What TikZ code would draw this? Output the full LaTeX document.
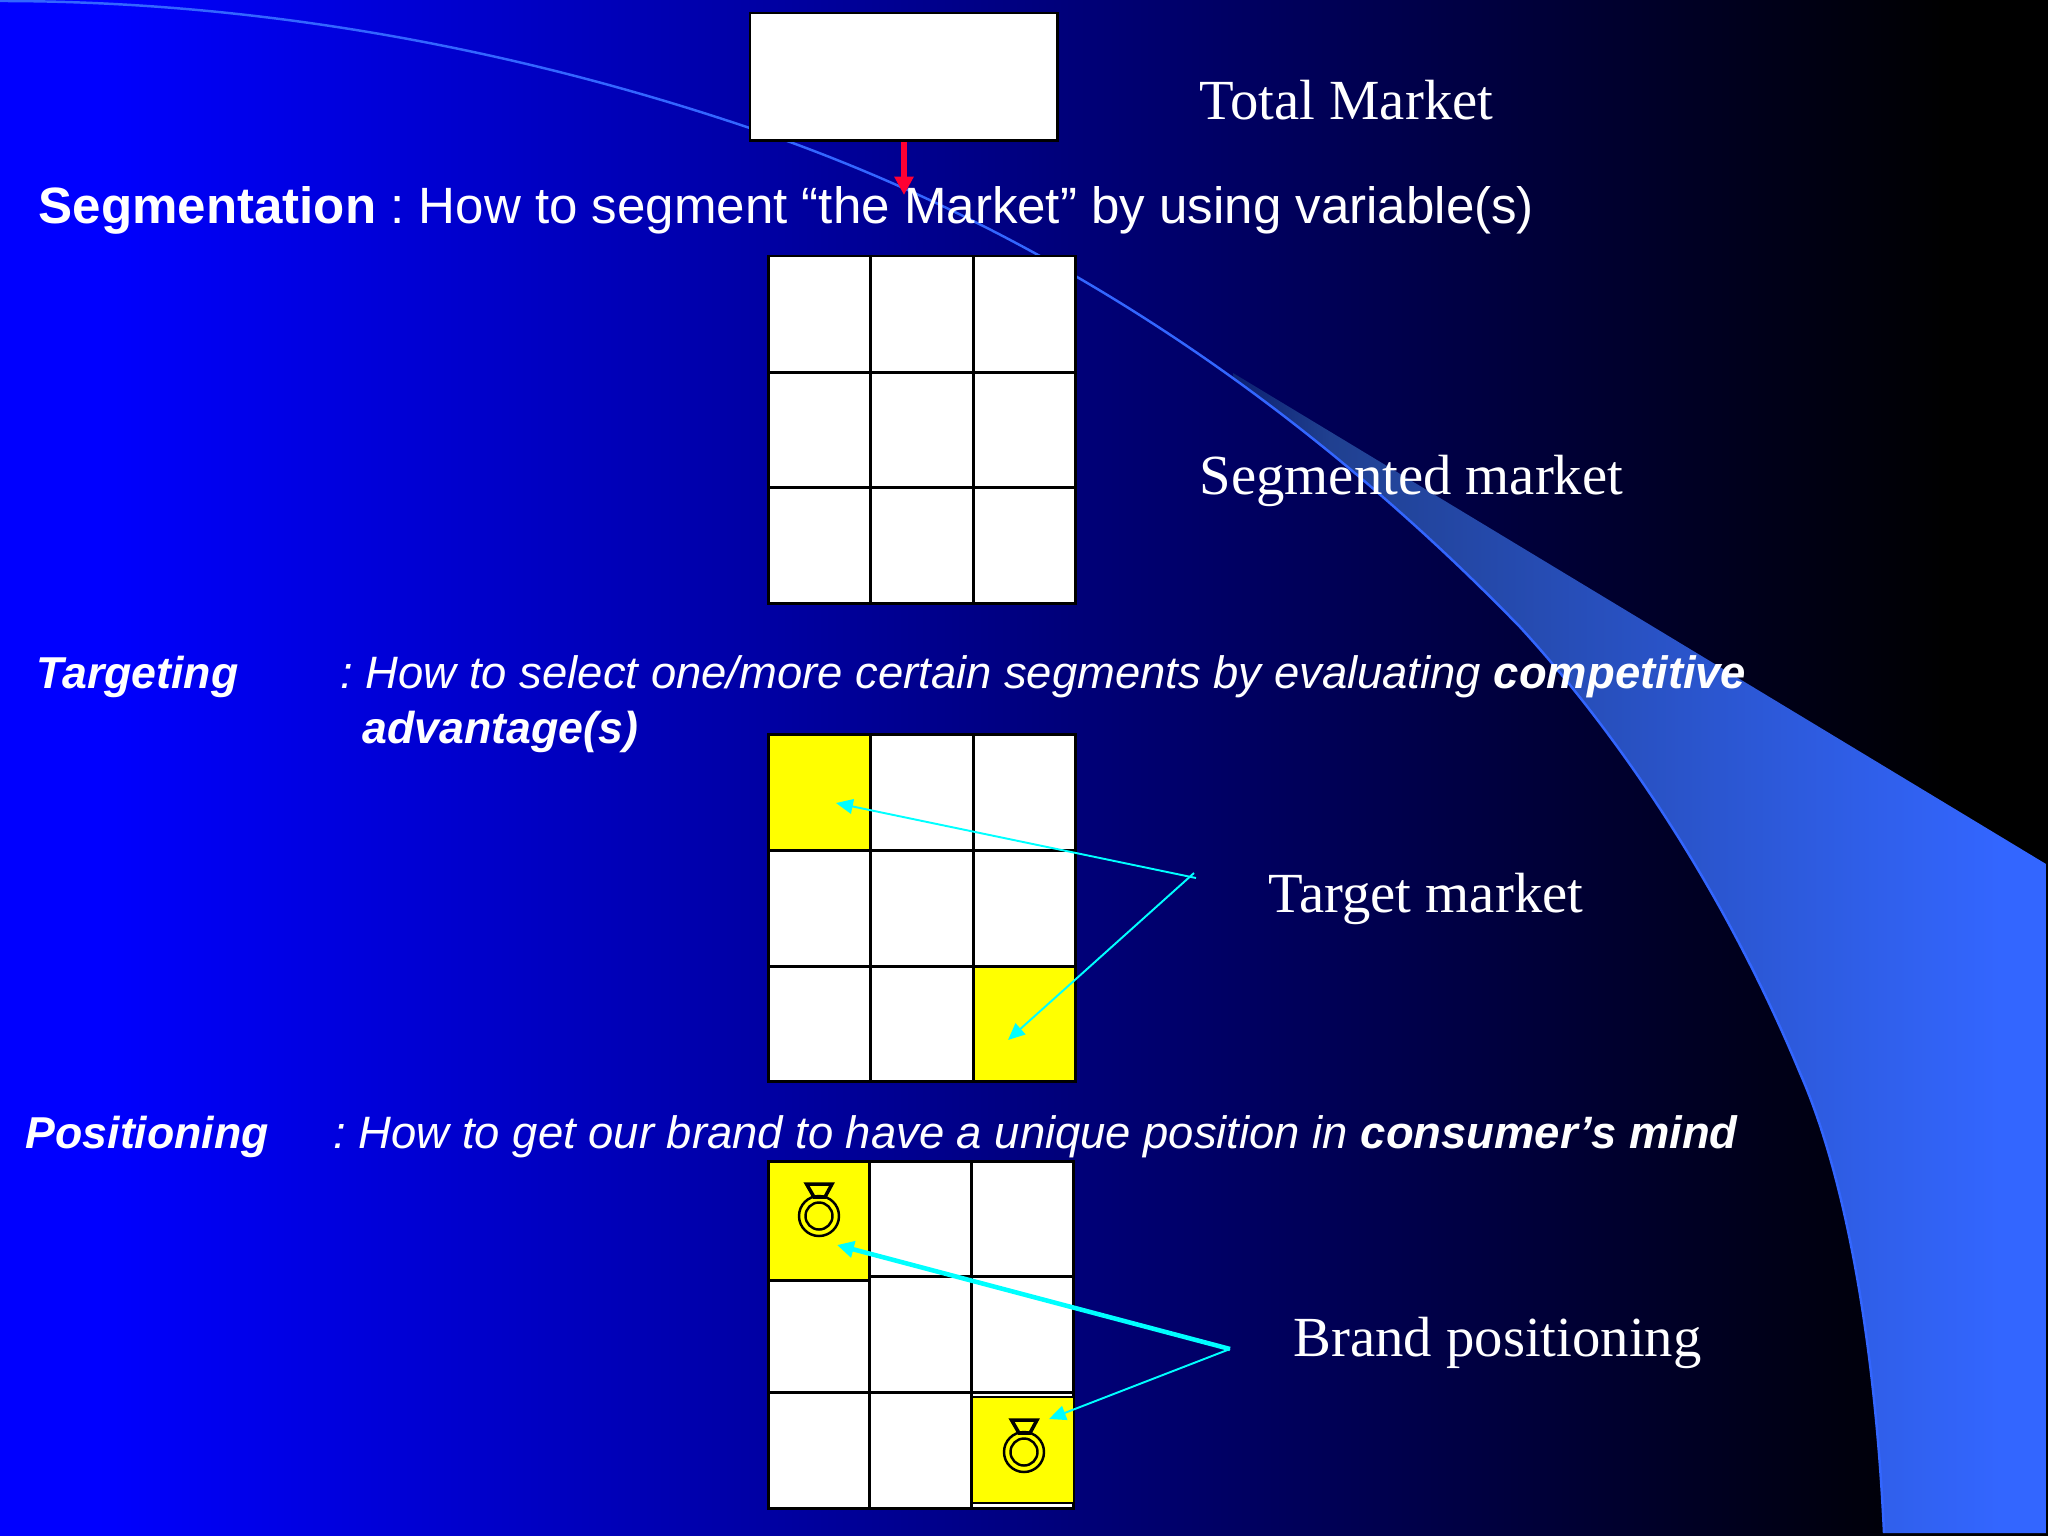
\documentclass[tikz,border=0pt]{standalone}
\usepackage{fontspec}
\setmainfont{Liberation Serif}
\setsansfont{Liberation Sans}
\frenchspacing
\usetikzlibrary{arrows.meta}
\definecolor{bgA}{HTML}{0000FF}
\pgfdeclarehorizontalshading{bgshade}{100bp}{color(0bp)=(bgA); color(27.4bp)=(bgA); color(72.6bp)=(black); color(100bp)=(black)}
\definecolor{bladeT}{HTML}{0C2070}
\definecolor{bladeA}{HTML}{204090}
\definecolor{bladeB}{HTML}{3366FF}
\pgfdeclarehorizontalshading{bladeshade}{100bp}{color(0bp)=(bladeT); color(42.6bp)=(bladeT); color(46.5bp)=(bladeA); color(73.2bp)=(bladeB); color(100bp)=(bladeB)}
\definecolor{edgeblue}{HTML}{3366FF}
\definecolor{cyanline}{HTML}{00FFFF}
\definecolor{redarrow}{HTML}{FF0033}
\definecolor{cellyellow}{HTML}{FFFF00}
\tikzset{
  cellbox/.style={draw=black,line width=0.85pt,fill=white,rectangle,inner sep=0pt,outer sep=0pt},
  serifl/.style={anchor=base west,text=white,inner sep=0pt,font=\fontsize{16.12}{19}\selectfont},
  headl/.style={anchor=base west,text=white,inner sep=0pt,font=\sffamily\fontsize{14.52}{17}\selectfont},
  iteml/.style={anchor=base west,text=white,inner sep=0pt,font=\sffamily\itshape\fontsize{12.91}{15}\selectfont},
  itemh/.style={anchor=base west,text=white,inner sep=0pt,font=\sffamily\itshape\fontsize{12.7}{15}\selectfont},
  cyanthin/.style={draw=cyanline,line width=0.55pt,-{Triangle[length=4.8pt,width=4.2pt]}},
  cyanthick/.style={draw=cyanline,line width=1.3pt,-{Triangle[length=4.8pt,width=4.6pt]}},
  ringline/.style={draw=black,line width=0.7pt},
}
\newcommand{\gridcell}[6]{%
  \pgfmathsetmacro{\gcx}{(#2+#3)/2}\pgfmathsetmacro{\gcy}{(#4+#5)/2}%
  \pgfmathsetmacro{\gcw}{(#3-#2)*0.01}\pgfmathsetmacro{\gch}{(#5-#4)*0.01}%
  \node[cellbox,fill=#6,minimum width=\gcw cm,minimum height=\gch cm] (#1) at (\gcx,\gcy) {};}
\newcommand{\ringmark}[2]{%
  \draw[ringline] (#1,#2) circle (20);
  \draw[ringline] (#1,#2) circle (13.5);
  \draw[ringline,line width=1pt] (#1-12.5,#2-32) -- (#1+13,#2-32) -- (#1+6,#2-19) -- (#1-5,#2-19) -- cycle;}
\newcommand{\bladecurve}{(790,142) .. controls (1030,230) and (1280,380) .. (1520,627) .. controls (1610,725) and (1720,880) .. (1800,1073) .. controls (1845,1175) and (1875,1340) .. (1884,1533)}
\begin{document}
\begin{tikzpicture}[x=0.01cm,y=-0.01cm]
\useasboundingbox (0,0) rectangle (2048,1536);
\shade[shading=bgshade] (0,0) rectangle (2048,1536);
% blade
\begin{scope}
\clip (1233,373) -- (2048,865) -- (2048,1536) -- (1233,1536) -- cycle;
\shade[shading=bladeshade] \bladecurve -- (2046,1533) -- (2046,864) -- (1233,373) -- cycle;
\end{scope}
\draw[edgeblue,line width=0.7pt] (0,1) .. controls (290,1) and (560,60) .. \bladecurve;
% total market
\gridcell{total}{750}{1057}{13}{140}{white}
\coordinate (redtip) at (904,195);
\draw[redarrow,line width=1.45pt,-{Triangle[length=5.2pt,width=5.2pt]}] (904,142) -- (redtip);
% segmented
\gridcell{sa}{768}{870}{256}{372}{white}
\gridcell{sb}{870}{973}{256}{372}{white}
\gridcell{sc}{973}{1075}{256}{372}{white}
\gridcell{sd}{768}{870}{372}{487}{white}
\gridcell{se}{870}{973}{372}{487}{white}
\gridcell{sf}{973}{1075}{372}{487}{white}
\gridcell{sg}{768}{870}{487}{603}{white}
\gridcell{sh}{870}{973}{487}{603}{white}
\gridcell{si}{973}{1075}{487}{603}{white}
% target
\gridcell{ta}{768}{870}{734}{850}{cellyellow}
\gridcell{tb}{870}{973}{734}{850}{white}
\gridcell{tc}{973}{1075}{734}{850}{white}
\gridcell{td}{768}{870}{850}{966}{white}
\gridcell{te}{870}{973}{850}{966}{white}
\gridcell{tf}{973}{1075}{850}{966}{white}
\gridcell{tg}{768}{870}{966}{1081}{white}
\gridcell{th}{870}{973}{966}{1081}{white}
\gridcell{ti}{973}{1075}{966}{1081}{cellyellow}
\coordinate (tsrca) at (1196,878);
\coordinate (tsrcb) at (1194,873);
\coordinate (ttipa) at (836,803);
\coordinate (ttipb) at (1008,1040);
\draw[cyanthin] (tsrca) -- (ttipa);
\draw[cyanthin] (tsrcb) -- (ttipb);
% positioning
\gridcell{pb}{869}{971}{1161}{1276}{white}
\gridcell{pc}{971}{1073}{1161}{1276}{white}
\gridcell{pd}{768}{869}{1280}{1392}{white}
\gridcell{pe}{869}{971}{1276}{1392}{white}
\gridcell{pf}{971}{1073}{1276}{1392}{white}
\gridcell{pg}{768}{869}{1392}{1508}{white}
\gridcell{ph}{869}{971}{1392}{1508}{white}
\gridcell{pi}{971}{1073}{1392}{1508}{white}
\gridcell{pa}{768}{869}{1161}{1280}{cellyellow}
\node[fill=cellyellow,draw=black,line width=0.5pt,inner sep=0pt,minimum width=1.02cm,minimum height=1.06cm] (py) at (1023,1450) {};
\ringmark{819}{1216}
\ringmark{1024}{1452}
\coordinate (psrc) at (1230,1349);
\coordinate (ptipa) at (837,1245);
\coordinate (ptipb) at (1049,1419);
\draw[cyanthick] (psrc) -- (ptipa);
\draw[cyanthin] (psrc) -- (ptipb);
% labels
\node[serifl] (l1) at (1199,119) {Total Market};
\node[serifl] (l2) at (1199,494) {Segmented market};
\node[serifl] (l3) at (1268,912) {Target market};
\node[serifl] (l4) at (1293,1356) {Brand positioning};
\node[headl] (h1) at (38,223.5) {\textbf{Segmentation} : How to segment “the Market” by using variable(s)};
\node[itemh] (t1) at (36,688) {\textbf{Targeting}};
\node[iteml] (t2) at (340,688) {: How to select one/more certain segments by evaluating \textbf{competitive}};
\node[itemh] (t3) at (362,743) {\textbf{advantage(s)}};
\node[itemh] (p1) at (25,1148) {\textbf{Positioning}};
\node[iteml] (p2) at (333,1148) {: How to get our brand to have a unique position in \textbf{consumer’s mind}};
\end{tikzpicture}
\end{document}
